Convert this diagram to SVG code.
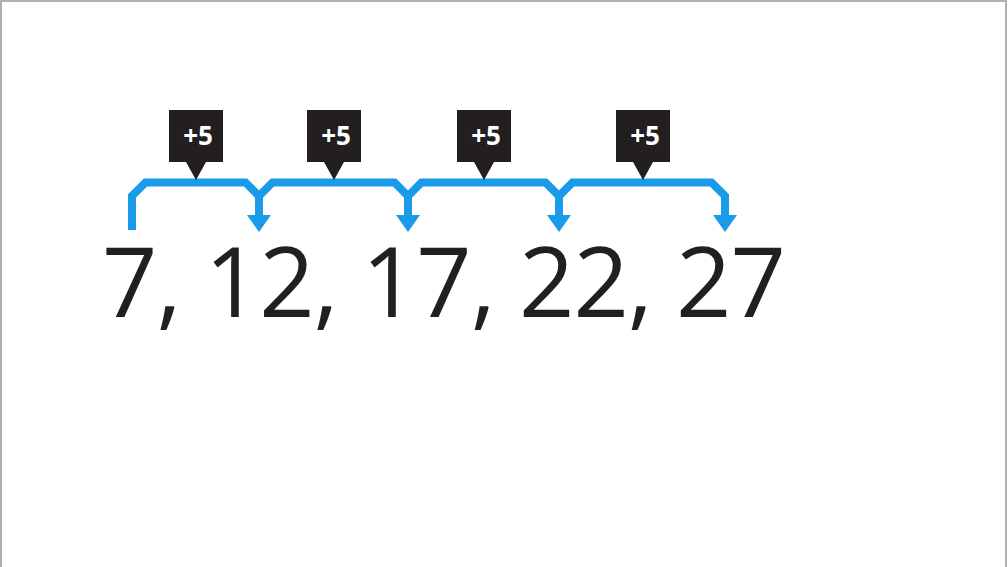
<svg xmlns="http://www.w3.org/2000/svg" width="1008" height="567" viewBox="0 0 1008 567">
<style>
.frame{fill:#ffffff;stroke:#b7afa7;stroke-width:2}
.tag{fill:#231f20}
.tagtxt{font-family:"Open Sans","Noto Sans",sans-serif;font-weight:bold;font-size:26px;fill:#ffffff;text-anchor:middle}
.line{fill:none;stroke:#1a9bea;stroke-width:8;stroke-linejoin:miter}
.head{fill:#1a9bea}
.seq{font-family:"Open Sans","Noto Sans",sans-serif;font-weight:500;font-size:97px;fill:#231f20}
</style>
<rect class="frame" x="1" y="1" width="1005" height="575"/>
<g id="connectors">
<path class="line" d="M132,230 V196 L145.5,182.5 H245.5 L259,196 L272.5,182.5 H394.5 L408,196 L421.5,182.5 H545.5 L559,196 L572.5,182.5 H711.5 L725,196 V216"/>
<path class="line" d="M259,196 V216 M408,196 V216 M559,196 V216"/>
<polygon class="head" points="247,215 271,215 259,232"/>
<polygon class="head" points="396,215 420,215 408,232"/>
<polygon class="head" points="547,215 571,215 559,232"/>
<polygon class="head" points="713,215 737,215 725,232"/>
</g>
<g id="tag1"><path class="tag" d="M169,110 H223 V162 H206 L196,180 L186,162 H169 Z"/><text class="tagtxt" x="198" y="145">+5</text></g>
<g id="tag2"><path class="tag" d="M307,110 H361 V162 H344 L334,180 L324,162 H307 Z"/><text class="tagtxt" x="336" y="145">+5</text></g>
<g id="tag3"><path class="tag" d="M457,110 H511 V162 H494 L484,180 L474,162 H457 Z"/><text class="tagtxt" x="486" y="145">+5</text></g>
<g id="tag4"><path class="tag" d="M616,110 H670 V162 H653 L643,180 L633,162 H616 Z"/><text class="tagtxt" x="645" y="145">+5</text></g>
<g id="sequence"><text class="seq" x="102" y="317" textLength="684" lengthAdjust="spacing">7, 12, 17, 22, 27</text></g>
</svg>
